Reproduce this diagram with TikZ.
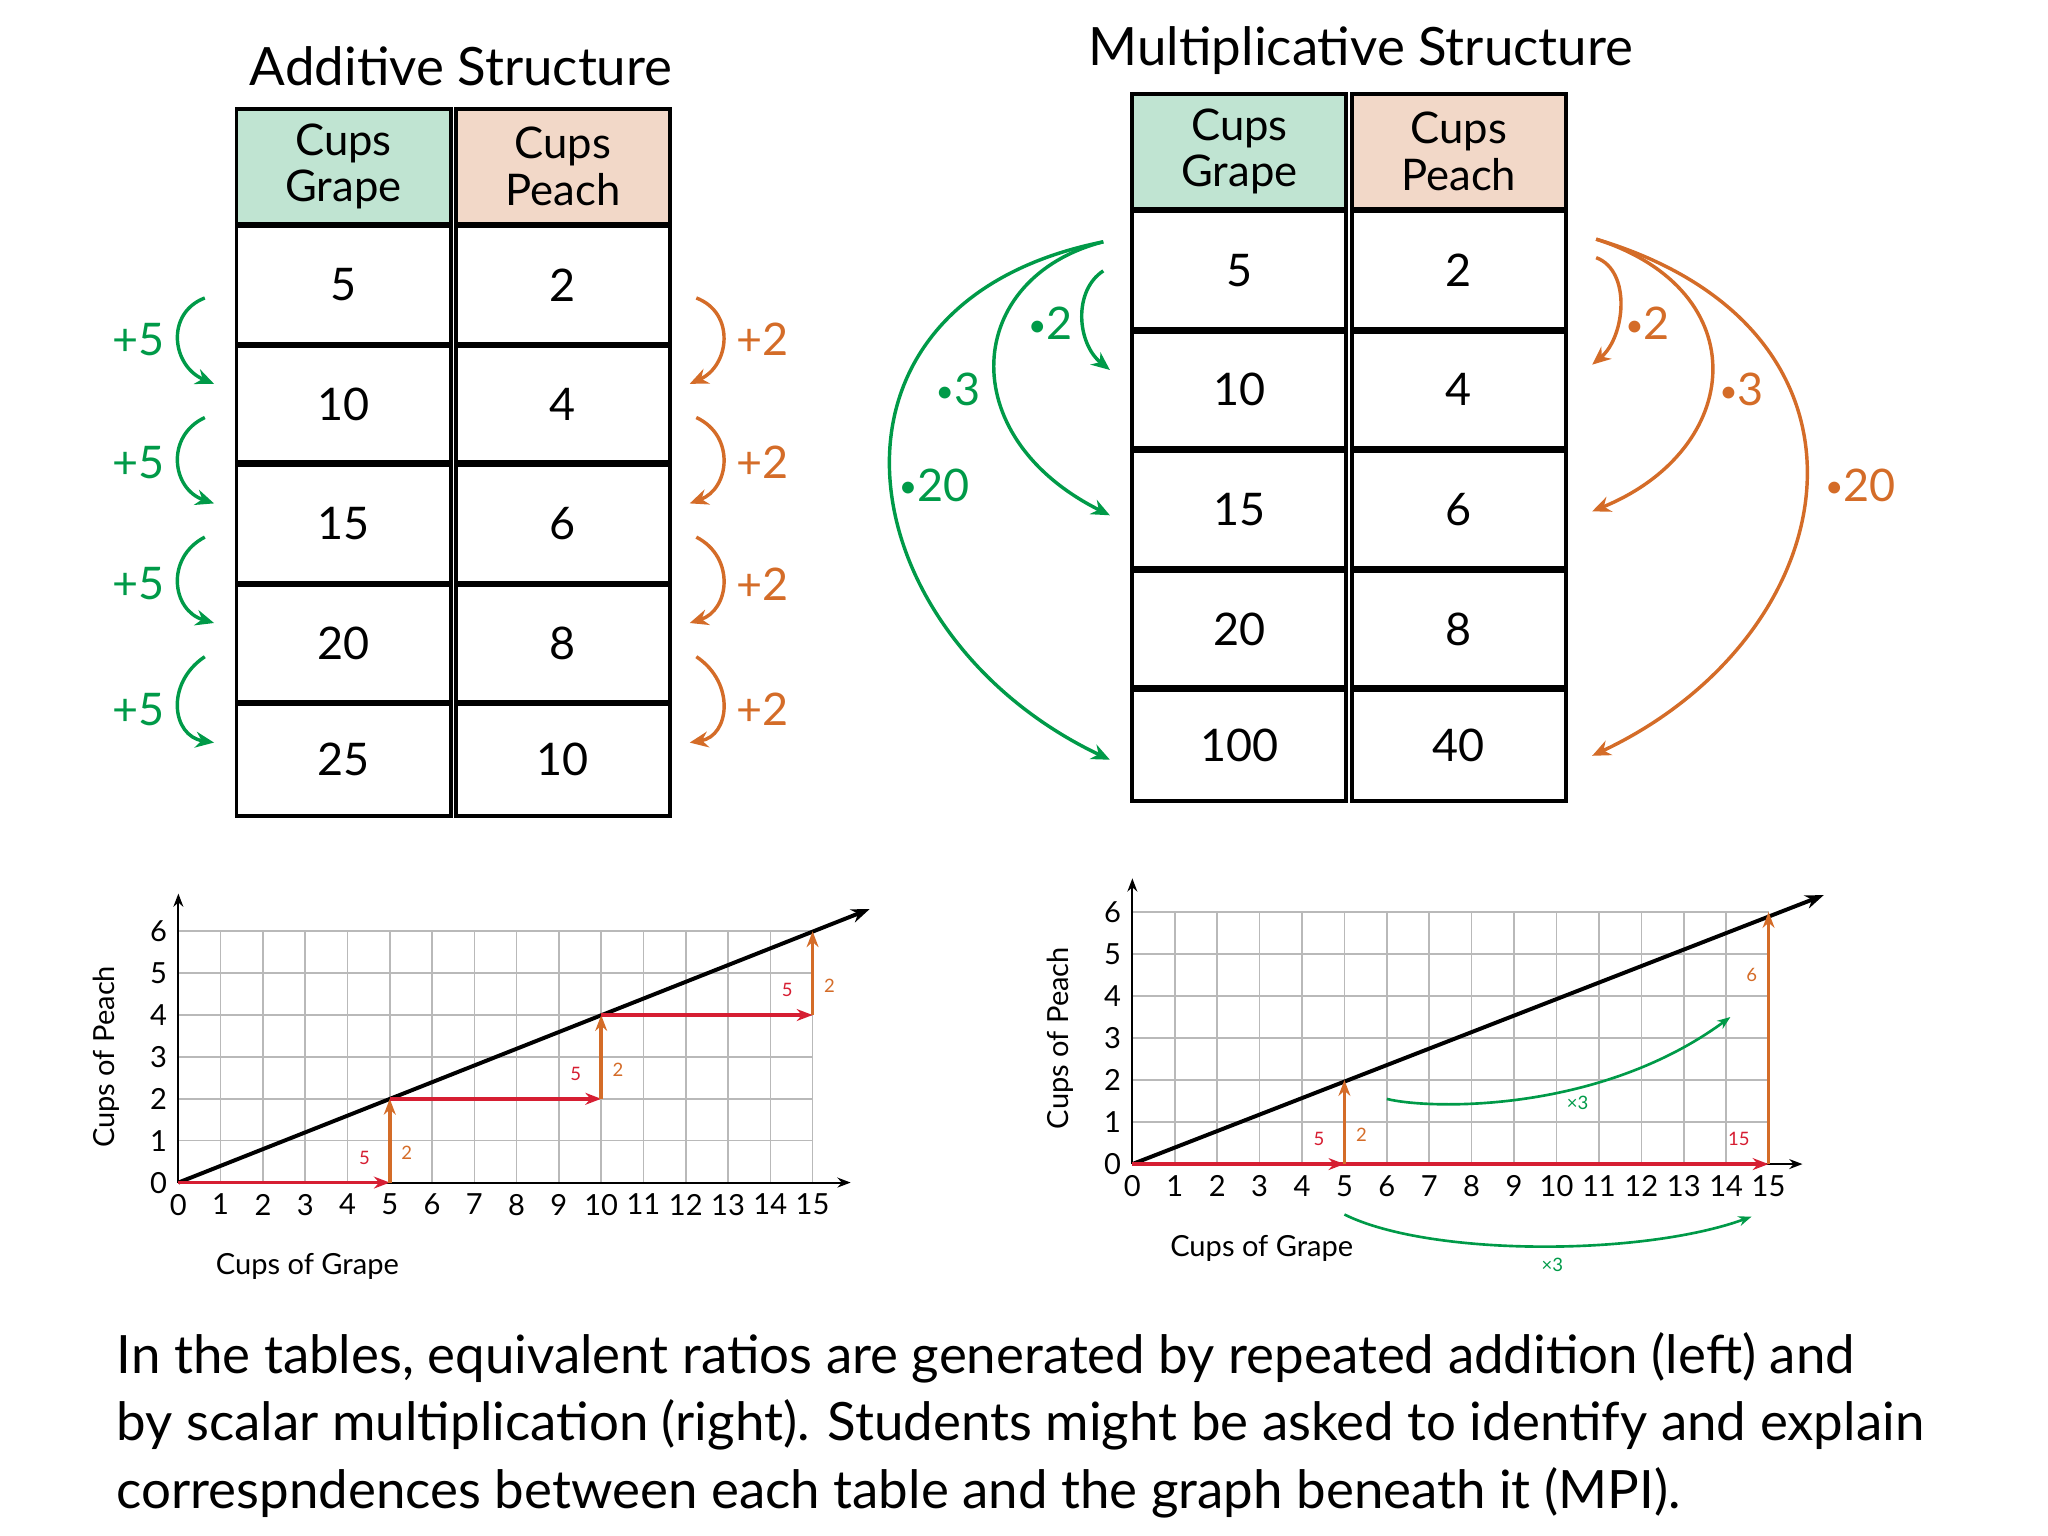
\documentclass[tikz,border=0pt]{standalone}
\usepackage{fontspec}
\setmainfont{Lato}
\usetikzlibrary{arrows.meta}
\definecolor{gr}{RGB}{0,154,72}
\definecolor{orc}{RGB}{212,108,40}
\definecolor{rd}{RGB}{214,30,50}
\definecolor{hg}{RGB}{192,228,210}
\definecolor{hp}{RGB}{242,216,200}
\newcommand{\bdot}{{\fontsize{12}{12}\selectfont\raisebox{0.2ex}{•}}}
\tikzset{
 cell/.style={draw,line width=1.5pt,minimum width=81pt,minimum height=44pt,inner sep=0pt,font=\fontsize{17}{19}\selectfont,align=center},
 garc/.style={gr,line width=1.3pt,-{Stealth[length=7pt,width=6pt]}},
 oarc/.style={orc,line width=1.3pt,-{Stealth[length=7pt,width=6pt]}},
 glab/.style={gr,font=\fontsize{17}{19}\selectfont},
 olab/.style={orc,font=\fontsize{17}{19}\selectfont},
 gridc/.style={gray!55,line width=0.6pt},
 tick/.style={font=\fontsize{11}{12}\selectfont},
 sm/.style={font=\fontsize{7}{8}\selectfont},
 ax/.style={line width=0.8pt,-{Stealth[length=5pt]}},
 rarr/.style={rd,line width=1.4pt,-{Stealth[length=6pt]}},
 oarr/.style={orc,line width=1.4pt,-{Stealth[length=6pt]}},
}
\begin{document}
\begin{tikzpicture}[x=0.5pt,y=-0.5pt]
\useasboundingbox (0,0) rectangle (1550,1162);
% ---------- left table
\node[font=\fontsize{20}{22}\selectfont] (t1) at (349,50) {Additive Structure};
\node[cell,fill=hg,minimum height=43.5pt,font=\fontsize{16.5}{17.5}\selectfont] (LH1) at (260,126) {Cups\\Grape};
\node[cell,fill=hp,minimum height=43.5pt,font=\fontsize{16.5}{17.5}\selectfont] (LH2) at (426,126) {Cups\\Peach};
\foreach \a/\b/\y/\h [count=\i] in {5/2/215.5/44.5,10/4/306/44,15/6/396.5/44.5,20/8/487/44,25/10/575/42.2}{
 \node[cell,minimum height=\h pt] (L\i a) at (260,\y) {\a};
 \node[cell,minimum height=\h pt] (L\i b) at (426,\y) {\b};
 \coordinate (gs\i) at (155,\y+10);
 \coordinate (ge\i) at (162,\y+75);
 \coordinate (os\i) at (527,\y+10);
 \coordinate (oe\i) at (522,\y+75);
}
\foreach \i/\y in {1/257,2/350,3/442,4/537}{
 \draw[garc] (gs\i) .. controls (125,\y-20) and (130,\y+20) .. (ge\i);
 \node[glab] at (105,\y) {+5};
 \draw[oarc] (os\i) .. controls (557,\y-20) and (552,\y+20) .. (oe\i);
 \node[olab] at (577,\y) {+2};
}
% ---------- right table
\node[font=\fontsize{20}{22}\selectfont] (t2) at (1030,38) {Multiplicative Structure};
\node[cell,fill=hg,minimum height=43.5pt,font=\fontsize{16.5}{17.5}\selectfont] (RH1) at (938,114.5) {Cups\\Grape};
\node[cell,fill=hp,minimum height=43.5pt,font=\fontsize{16.5}{17.5}\selectfont] (RH2) at (1104,114.5) {Cups\\Peach};
\foreach \a/\b/\y/\h [count=\i] in {5/2/204.5/44.5,10/4/295/44,15/6/385.5/44.5,20/8/476/44,100/40/564/42}{
 \node[cell,minimum height=\h pt] (R\i a) at (938,\y) {\a};
 \node[cell,minimum height=\h pt] (R\i b) at (1104,\y) {\b};
}
\coordinate (g0) at (835,183);
\coordinate (g0s) at (835,205);
\coordinate (o0) at (1208,181);
\coordinate (o0s) at (1208,195);
\coordinate (g2) at (840,280); \coordinate (g3) at (840,390); \coordinate (g20) at (840,575);
\coordinate (o2) at (1205,276); \coordinate (o3) at (1205,387); \coordinate (o20) at (1205,572);
\draw[garc] (g0s) .. controls (812,220) and (815,260) .. (g2);
\draw[garc] (g0) .. controls (730,210) and (720,330) .. (g3);
\draw[garc] (g0) .. controls (600,230) and (640,480) .. (g20);
\draw[oarc] (o0s) .. controls (1235,205) and (1230,255) .. (o2);
\draw[oarc] (o0) .. controls (1330,220) and (1320,340) .. (o3);
\draw[oarc] (o0) .. controls (1440,250) and (1400,480) .. (o20);
\node[glab] at (795,245) {\bdot2};
\node[glab] at (725,295) {\bdot3};
\node[glab] at (707,367) {\bdot20};
\node[olab] at (1247,245) {\bdot2};
\node[olab] at (1318,295) {\bdot3};
\node[olab] at (1408,367) {\bdot20};
% ---------- left graph
\begin{scope}[shift={(135,895)},x=16pt,y=15.85pt]
 \foreach \k in {1,...,15} \draw[gridc] (\k,0) -- (\k,6);
 \foreach \k in {1,...,6} \draw[gridc] (0,\k) -- (15,\k);
 \draw[ax] (0,0) -- (15.9,0);
 \draw[ax] (0,0) -- (0,6.9);
 \foreach \k in {0,...,15} \node[tick,below] at (\k,-0.05) {\k};
 \foreach \k in {0,...,6} \node[tick,left] at (-0.05,\k) {\k};
 \coordinate (o) at (0,0);
 \coordinate (le) at (16.35,6.53);
 \draw[line width=1.5pt,-{Stealth[length=7pt]}] (o) -- (le);
 \foreach \s in {0,5,10}{
  \pgfmathsetmacro\yy{\s*0.4}
  \coordinate (p\s) at (\s,\yy);
  \coordinate (q\s) at (\s+5,\yy);
  \coordinate (r\s) at (\s+5,\yy+2);
  \draw[rarr] (p\s) -- (q\s);
  \draw[oarr] (q\s) -- (r\s);
  \node[sm,rd] at (\s+4.4,\yy+0.6) {5};
  \node[sm,orc] at (\s+5.4,\yy+0.7) {2};
 }
 \node[tick,rotate=90] at (-1.7,3) {Cups of Peach};
 \node[tick] at (3.05,-2) {Cups of Grape};
\end{scope}
% ---------- right graph
\begin{scope}[shift={(857,881)},x=16.05pt,y=15.9pt]
 \foreach \k in {1,...,15} \draw[gridc] (\k,0) -- (\k,6);
 \foreach \k in {1,...,6} \draw[gridc] (0,\k) -- (15,\k);
 \draw[ax] (0,0) -- (15.8,0);
 \draw[ax] (0,0) -- (0,6.8);
 \foreach \k in {0,...,15} \node[tick,below] at (\k,-0.05) {\k};
 \foreach \k in {0,...,6} \node[tick,left] at (-0.05,\k) {\k};
 \coordinate (O) at (0,0);
 \coordinate (E) at (16.3,6.4);
 \draw[line width=1.5pt,-{Stealth[length=7pt]}] (O) -- (E);
 \coordinate (A) at (5,0); \coordinate (B) at (5,2);
 \coordinate (C) at (15,0); \coordinate (D) at (15,6);
 \draw[rarr] (O) -- (C);
 \draw[rarr] (O) -- (A);
 \draw[oarr] (A) -- (B);
 \draw[oarr] (C) -- (D);
 \node[sm,rd] at (4.4,0.6) {5};
 \node[sm,orc] at (5.4,0.7) {2};
 \node[sm,rd] at (14.3,0.6) {15};
 \node[sm,orc] at (14.6,4.5) {6};
 \coordinate (m1) at (6,1.55); \coordinate (m2) at (14.1,3.5);
 \draw[gr,line width=1pt,-{Stealth[length=5pt]}] (m1) .. controls (7,1.3) and (11,1.2) .. (m2);
 \node[sm,gr] at (10.5,1.45) {×3};
 \coordinate (n1) at (5,-1.2); \coordinate (n2) at (14.6,-1.25);
 \draw[gr,line width=1pt,-{Stealth[length=5pt]}] (n1) .. controls (7,-2.2) and (12,-2.2) .. (n2);
 \node[sm,gr] at (9.9,-2.4) {×3};
 \node[tick,rotate=90] at (-1.7,3) {Cups of Peach};
 \node[tick] at (3.05,-2) {Cups of Grape};
\end{scope}
% ---------- caption
\node[anchor=north west,align=left,font=\fontsize{20}{25.5}\selectfont,inner sep=0pt] (cap) at (88,1008)
 {In the tables, equivalent ratios are generated by repeated addition (left) and\\
 by scalar multiplication (right). Students might be asked to identify and explain\\
 correspndences between each table and the graph beneath it (MPI).};
\end{tikzpicture}
\end{document}
